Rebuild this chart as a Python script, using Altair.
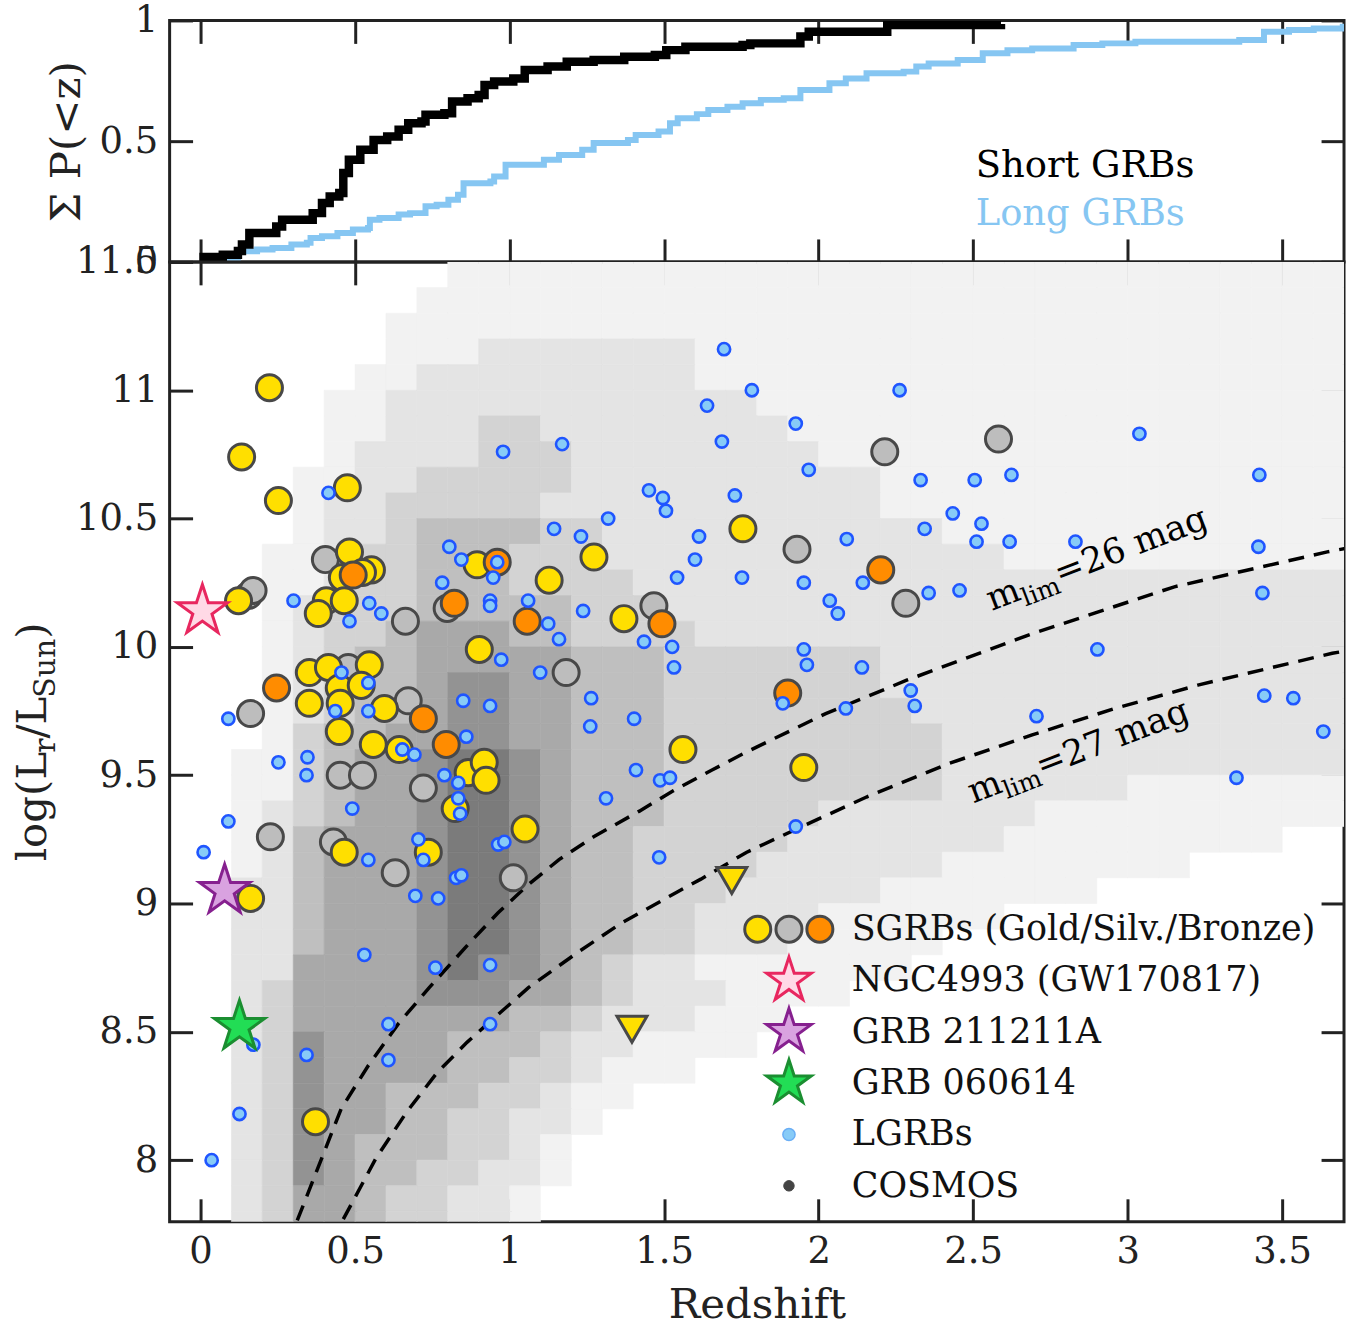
import altair as alt
import pandas as pd

FONT = "DejaVu Serif"
INK = "#222222"
TICK = 23

# ---------------- top panel: cumulative redshift distributions ----------------
short_z = [0.00, 0.010, 0.072, 0.121, 0.134, 0.158, 0.245, 0.264, 0.363, 0.393, 0.418, 0.449, 0.462,
           0.480, 0.517, 0.560, 0.604, 0.641, 0.672, 0.715, 0.728, 0.789, 0.814, 0.864, 0.900, 0.919,
           0.950, 1.012, 1.049, 1.123, 1.185, 1.272, 1.371, 1.470, 1.507, 1.569, 1.754, 1.779, 1.941,
           1.968, 2.222, 2.590]
short_p = [0.000, 0.020, 0.030, 0.045, 0.072, 0.120, 0.147, 0.175, 0.202, 0.244, 0.271, 0.285, 0.368,
           0.423, 0.464, 0.505, 0.519, 0.547, 0.574, 0.581, 0.609, 0.616, 0.664, 0.678, 0.691, 0.733,
           0.747, 0.760, 0.795, 0.809, 0.829, 0.836, 0.850, 0.857, 0.877, 0.891, 0.898, 0.905, 0.933,
           0.953, 0.981, 0.985]
long_z = [0.00, 0.010, 0.121, 0.183, 0.233, 0.294, 0.344, 0.356, 0.393, 0.443, 0.493, 0.542, 0.548,
          0.579, 0.641, 0.678, 0.728, 0.764, 0.802, 0.833, 0.851, 0.938, 0.950, 0.987, 1.111, 1.160,
          1.235, 1.272, 1.383, 1.408, 1.482, 1.519, 1.544, 1.606, 1.643, 1.705, 1.754, 1.813, 1.887,
          1.941, 2.035, 2.088, 2.155, 2.275, 2.316, 2.356, 2.450, 2.531, 2.611, 2.691, 2.825, 2.918,
          3.025, 3.361, 3.441, 3.522, 3.602, 3.696, 3.750]
long_p = [0.000, 0.017, 0.044, 0.051, 0.058, 0.072, 0.079, 0.099, 0.106, 0.120, 0.134, 0.140, 0.175,
          0.182, 0.196, 0.202, 0.230, 0.237, 0.257, 0.278, 0.326, 0.333, 0.354, 0.402, 0.423, 0.443,
          0.464, 0.492, 0.505, 0.526, 0.540, 0.574, 0.595, 0.612, 0.629, 0.643, 0.657, 0.671, 0.678,
          0.712, 0.740, 0.760, 0.781, 0.788, 0.809, 0.822, 0.836, 0.864, 0.877, 0.884, 0.898, 0.905,
          0.912, 0.919, 0.953, 0.960, 0.967, 0.974, 0.974]
top_labels = ["Short GRBs", "Long GRBs"]
top_label_z = [2.508, 2.508]
top_label_p = [0.397, 0.198]

# ---------------- main panel ----------------
gold_z = [0.223, 0.133, 0.252, 0.475, 0.482, 0.553, 0.459, 0.524, 0.407, 0.465, 0.381, 0.123, 0.352,
          0.414, 0.546, 0.449, 0.520, 0.352, 0.452, 0.449, 0.559, 0.595, 0.643, 0.866, 0.918, 0.924,
          0.824, 0.737, 0.465, 1.050, 0.895, 1.128, 1.273, 0.902, 1.370, 1.755, 1.561, 1.952, 0.162,
          0.372]
gold_L = [11.01, 10.74, 10.57, 10.62, 10.37, 10.30, 10.27, 10.29, 10.18, 10.18, 10.13, 10.18, 9.90,
          9.92, 9.93, 9.84, 9.85, 9.78, 9.78, 9.67, 9.62, 9.76, 9.60, 9.51, 9.55, 9.48,
          9.37, 9.20, 9.20, 9.29, 10.32, 10.26, 10.35, 9.99, 10.11, 10.46, 9.60, 9.53, 9.02,
          8.15]
silver_z = [0.155, 0.170, 0.404, 0.663, 0.798, 1.183, 1.467, 2.214, 2.582, 1.930, 2.282, 0.672, 0.721,
            0.162, 0.478, 0.452, 0.524, 0.226, 0.430, 0.630, 1.012]
silver_L = [10.20, 10.22, 10.34, 10.10, 10.15, 9.90, 10.16, 10.76, 10.81, 10.38, 10.17, 9.79, 9.45,
            9.74, 9.92, 9.50, 9.50, 9.26, 9.24, 9.12, 9.10]
bronze_z = [0.494, 0.960, 0.821, 1.057, 1.493, 2.201, 0.246, 0.721, 0.795, 1.900]
bronze_L = [10.28, 10.33, 10.17, 10.10, 10.09, 10.30, 9.84, 9.72, 9.62, 9.82]
limit_z = [1.396, 1.719]
limit_L = [8.51, 9.09]
lgrb_z = [1.694, 1.784, 2.262, 1.639, 1.926, 1.687, 3.038, 1.968, 2.330, 2.505, 2.624, 3.426, 1.451,
          1.496, 1.506, 1.729, 1.319, 2.434, 1.613, 2.343, 2.527, 2.511, 2.618, 2.831, 3.423, 2.091,
          1.600, 1.542, 1.752, 1.952, 2.143, 2.356, 2.456, 3.436, 2.036, 2.062, 1.435, 1.526, 1.532,
          1.952, 1.962, 2.140, 2.902, 1.884, 2.298, 2.311, 2.088, 3.442, 3.536, 3.633, 2.705, 3.352,
          1.926, 0.979, 1.170, 1.144, 1.231, 0.414, 0.805, 0.844, 0.947, 0.782, 0.960, 0.937, 0.937,
          1.060, 1.125, 1.160, 1.238, 0.973, 1.099, 1.264, 0.301, 0.546, 0.585, 0.482, 0.090, 0.252,
          0.346, 0.343, 0.436, 0.543, 0.491, 0.090, 0.010, 0.543, 0.850, 0.937, 0.860, 0.653, 0.692,
          0.789, 0.834, 0.834, 0.840, 0.705, 0.963, 0.983, 0.721, 0.827, 0.844, 0.695, 0.769, 1.403,
          1.261, 1.312, 1.409, 1.487, 1.519, 1.484, 0.530, 0.760, 0.937, 0.608, 0.937, 0.171, 0.343,
          0.608, 0.126, 0.036, 0.456, 0.543]
lgrb_L = [11.16, 11.00, 11.00, 10.94, 10.87, 10.80, 10.83, 10.69, 10.65, 10.65, 10.67, 10.67, 10.61,
          10.58, 10.53, 10.59, 10.50, 10.52, 10.43, 10.46, 10.48, 10.41, 10.41, 10.41, 10.39, 10.42,
          10.34, 10.27, 10.27, 10.25, 10.25, 10.21, 10.22, 10.21, 10.18, 10.13, 10.02, 10.00, 9.92,
          9.99, 9.93, 9.92, 9.99, 9.78, 9.83, 9.77, 9.76, 9.81, 9.80, 9.67, 9.73, 9.49,
          9.30, 10.76, 10.79, 10.46, 10.43, 10.60, 10.39, 10.34, 10.27, 10.25, 10.33, 10.18, 10.16,
          10.18, 10.09, 10.03, 10.14, 9.95, 9.90, 9.80, 10.18, 10.17, 10.13, 10.10, 9.72, 9.55,
          9.57, 9.50, 9.75, 9.75, 9.37, 9.32, 9.20, 9.17, 9.79, 9.77, 9.65, 9.60, 9.58,
          9.50, 9.47, 9.41, 9.35, 9.25, 9.23, 9.24, 9.17, 9.10, 9.11, 9.03, 9.02, 9.72,
          9.69, 9.41, 9.52, 9.48, 9.49, 9.18, 8.80, 8.75, 8.76, 8.53, 8.53, 8.45, 8.41,
          8.39, 8.18, 8.00, 9.90, 9.86]
star_names = ["NGC4993 (GW170817)", "GRB 211211A", "GRB 060614"]
star_z = [0.006, 0.078, 0.126]
star_L = [10.14, 9.05, 8.52]

mlim26_z = [0.313, 0.455, 0.542, 0.641, 0.740, 0.864, 0.962, 1.061, 1.160, 1.272, 1.420, 1.531, 1.655,
            1.766, 2.023, 2.285, 2.688, 3.151, 3.646, 3.710]
mlim26_L = [7.765, 8.200, 8.367, 8.533, 8.672, 8.838, 8.963, 9.074, 9.171, 9.260, 9.360, 9.440, 9.520,
            9.590, 9.740, 9.870, 10.050, 10.234, 10.370, 10.385]
mlim27_z = [0.462, 0.567, 0.666, 0.764, 0.863, 0.937, 1.061, 1.222, 1.358, 1.544, 1.619, 1.766, 1.928,
            2.155, 2.423, 2.691, 2.959, 3.227, 3.662, 3.710]
mlim27_L = [7.770, 8.006, 8.186, 8.339, 8.460, 8.540, 8.672, 8.811, 8.921, 9.046, 9.095, 9.199, 9.290,
            9.415, 9.546, 9.657, 9.760, 9.851, 9.975, 9.985]
mlim_tail = ["=26 mag", "=27 mag"]
mlim_text_z = [2.56, 2.50]
mlim_text_L = [10.14, 9.39]

# COSMOS galaxy density (run-length encoded rows, grey level 0-7),
# cells 0.1 in redshift from z=-0.1 and 0.1 dex from logL=11.5 downwards
cosmos_rle = [
    [(0, 9), (1, 29)],
    [(0, 8), (1, 30)],
    [(0, 7), (1, 31)],
    [(0, 7), (1, 3), (2, 7), (1, 21)],
    [(0, 6), (1, 2), (2, 9), (1, 21)],
    [(0, 5), (1, 2), (2, 12), (1, 19)],
    [(0, 5), (1, 2), (2, 3), (3, 2), (2, 8), (1, 18)],
    [(0, 5), (1, 1), (2, 4), (3, 3), (2, 8), (1, 17)],
    [(0, 4), (1, 2), (2, 2), (3, 5), (2, 10), (1, 15)],
    [(0, 4), (1, 1), (2, 2), (3, 5), (2, 11), (1, 15)],
    [(0, 4), (1, 1), (2, 2), (3, 1), (4, 4), (3, 2), (2, 11), (1, 13)],
    [(0, 3), (1, 2), (2, 1), (3, 2), (4, 3), (3, 3), (2, 13), (1, 11)],
    [(0, 3), (1, 2), (2, 1), (3, 2), (4, 3), (3, 4), (2, 23)],
    [(0, 3), (1, 1), (2, 1), (3, 3), (4, 5), (3, 3), (2, 22)],
    [(0, 3), (1, 1), (2, 1), (3, 2), (4, 1), (5, 3), (4, 2), (3, 4), (2, 21)],
    [(0, 3), (1, 1), (2, 1), (3, 1), (4, 2), (5, 5), (4, 3), (3, 7), (2, 15)],
    [(0, 3), (1, 1), (2, 1), (3, 1), (4, 2), (5, 1), (6, 2), (5, 2), (4, 3), (3, 7), (2, 15)],
    [(0, 3), (1, 1), (2, 1), (3, 1), (4, 2), (5, 1), (6, 2), (5, 2), (4, 3), (3, 8), (2, 14)],
    [(0, 3), (1, 1), (3, 1), (4, 2), (5, 2), (6, 2), (5, 2), (4, 3), (3, 9), (2, 13)],
    [(0, 2), (1, 2), (3, 1), (4, 1), (5, 2), (6, 1), (7, 2), (6, 1), (5, 1), (4, 3), (3, 9), (2, 13)],
    [(0, 2), (1, 2), (3, 1), (4, 1), (5, 2), (6, 1), (7, 2), (6, 1), (5, 1), (4, 3), (3, 9), (2, 6), (1, 7)],
    [(0, 2), (1, 1), (2, 1), (3, 1), (4, 1), (5, 2), (6, 1), (7, 2), (6, 1), (5, 1), (4, 3), (3, 5), (2, 7), (1, 10)],
    [(0, 2), (1, 1), (2, 1), (4, 1), (5, 3), (6, 1), (7, 2), (6, 1), (5, 1), (4, 2), (3, 5), (2, 7), (1, 9), (0, 2)],
    [(0, 2), (1, 1), (2, 1), (4, 1), (5, 3), (6, 1), (7, 2), (6, 1), (5, 1), (4, 2), (3, 4), (2, 6), (1, 8), (0, 5)],
    [(0, 2), (2, 2), (4, 1), (5, 3), (6, 1), (7, 2), (6, 1), (5, 1), (4, 2), (3, 3), (2, 5), (1, 7), (0, 8)],
    [(0, 2), (2, 2), (4, 1), (5, 3), (6, 1), (7, 2), (6, 1), (5, 1), (4, 2), (3, 2), (2, 4), (1, 6), (0, 11)],
    [(0, 2), (2, 2), (4, 1), (5, 3), (6, 1), (7, 2), (6, 1), (5, 1), (4, 2), (3, 2), (2, 3), (1, 5), (0, 13)],
    [(0, 2), (2, 2), (5, 4), (6, 1), (7, 1), (6, 2), (5, 1), (4, 1), (3, 1), (2, 2), (1, 7), (0, 14)],
    [(0, 2), (2, 1), (3, 1), (5, 4), (6, 3), (5, 2), (4, 1), (3, 1), (2, 3), (1, 4), (0, 16)],
    [(0, 2), (2, 1), (3, 1), (5, 7), (4, 2), (3, 1), (2, 3), (1, 3), (0, 18)],
    [(0, 2), (2, 1), (3, 1), (6, 1), (5, 4), (4, 3), (3, 1), (2, 2), (1, 4), (0, 19)],
    [(0, 2), (2, 1), (3, 1), (6, 1), (5, 4), (4, 2), (3, 2), (2, 1), (1, 3), (0, 21)],
    [(0, 2), (2, 1), (3, 1), (6, 1), (5, 2), (4, 3), (3, 2), (2, 1), (1, 2), (0, 23)],
    [(0, 2), (2, 1), (3, 1), (6, 1), (5, 2), (4, 2), (3, 2), (2, 2), (1, 1), (0, 24)],
    [(0, 2), (2, 1), (3, 1), (6, 1), (5, 1), (4, 3), (3, 2), (2, 1), (1, 1), (0, 25)],
    [(0, 2), (2, 1), (3, 1), (6, 1), (5, 1), (4, 2), (3, 2), (2, 2), (1, 1), (0, 25)],
    [(0, 2), (2, 1), (3, 1), (5, 2), (4, 1), (3, 2), (2, 2), (1, 1), (0, 26)],
    [(0, 2), (2, 1), (3, 1), (5, 2), (4, 1), (3, 2), (2, 2), (1, 1), (0, 26)],
]
cosmos_z_start = -0.1
cosmos_L_top = 11.5
cosmos_cell = 0.1

# legend entries (placed in data units inside the lower-right corner)
legend_labels = ["SGRBs (Gold/Silv./Bronze)", "NGC4993 (GW170817)", "GRB 211211A", "GRB 060614",
                 "LGRBs", "COSMOS"]
legend_L = [8.90, 8.70, 8.50, 8.30, 8.10, 7.90]
legend_sym_z = 1.904
legend_txt_z = 2.107
legend_sgrb_z = [1.803, 1.904, 2.004]

# y-axis title pieces: (text, is_subscript)
ytitle_pieces = [("log(L", False), ("r", True), ("/L", False), ("Sun", True), (")", False)]

# ---------------- styles ----------------
GOLD, SILVER, BRONZE = "#ffdf00", "#bdbdbd", "#ff8c00"
EDGE = "#484848"
LG_FILL, LG_EDGE = "#87cbf7", "#1f55ff"
LONG_COL = "#86c6f2"
STAR_FILL = ["#ffd9e6", "#d9a2e0", "#22dd55"]
STAR_EDGE = ["#e8275f", "#86208f", "#1b8e31"]
STAR_PATH = ("M0,-1L0.225,-0.309L0.951,-0.309L0.363,0.118L0.588,0.809L0,0.382"
             "L-0.588,0.809L-0.363,0.118L-0.951,-0.309L-0.225,-0.309Z")
GREY_LEVELS = [0, 1, 2, 3, 4, 5, 6, 7]
GREY_COLORS = ["#ffffff", "#f2f2f2", "#e4e4e4", "#d3d3d3", "#bfbfbf", "#a9a9a9", "#939393", "#7b7b7b"]
# advance widths (em) of DejaVu Serif glyphs used to chain title / annotation pieces
EM = {"l": 0.320, "o": 0.602, "g": 0.640, "(": 0.390, ")": 0.390, "L": 0.637, "r": 0.478,
      "/": 0.337, "S": 0.685, "u": 0.644, "n": 0.644, "i": 0.320, "m": 0.948}

W, H_MAIN, H_TOP = 1177, 962, 242
xs = alt.Scale(domain=[-0.1, 3.7], nice=False, zero=False)
ys = alt.Scale(domain=[7.76, 11.5], nice=False, zero=False)
ps = alt.Scale(domain=[0, 1], nice=False, zero=False)
XV = [0, 0.5, 1, 1.5, 2, 2.5, 3, 3.5]
YV = [8, 8.5, 9, 9.5, 10, 10.5, 11, 11.5]
PV = [0, 0.5, 1]


def text_width(s, size):
    return sum(EM.get(ch, 0.6) for ch in s) * size


def inner_axis(orient, values, labels=False, title=None, label_pad=12, title_pad=10):
    kw = dict(orient=orient, values=values, offset=-TICK, tickSize=TICK, tickWidth=3,
              tickColor=INK, domain=False, grid=False, labels=labels, labelFlush=False,
              title=title)
    if labels:
        kw.update(format="~g", labelFont=FONT, labelFontSize=37, labelColor=INK,
                  labelPadding=label_pad)
    if title is not None:
        kw.update(titleFont=FONT, titleFontSize=42, titleFontWeight="normal", titleColor=INK,
                  titlePadding=title_pad)
    return alt.Axis(**kw)


# ---------------- top panel ----------------
short_df = pd.DataFrame({"z": short_z, "p": short_p})
long_df = pd.DataFrame({"z": long_z, "p": long_p})
toplab_df = pd.DataFrame({"z": top_label_z, "p": top_label_p, "t": top_labels,
                          "c": ["black", LONG_COL]})

short_line = alt.Chart(short_df).mark_line(
    interpolate="step-after", color="black", strokeWidth=8.5, clip=True
).encode(
    x=alt.X("z:Q", scale=xs, axis=inner_axis("bottom", XV)),
    y=alt.Y("p:Q", scale=ps, axis=inner_axis("left", PV, labels=True, title="\u03a3 P(<z)",
                                             title_pad=10)),
)
long_line = alt.Chart(long_df).mark_line(
    interpolate="step-after", color=LONG_COL, strokeWidth=6, clip=True
).encode(
    x=alt.X("z:Q", scale=xs, axis=inner_axis("top", XV)),
    y=alt.Y("p:Q", scale=ps, axis=inner_axis("right", PV)),
)
top_text = alt.Chart(toplab_df).mark_text(
    align="left", baseline="middle", font=FONT, fontSize=37
).encode(
    x=alt.X("z:Q", scale=xs, axis=None),
    y=alt.Y("p:Q", scale=ps, axis=None),
    text="t:N",
    color=alt.Color("c:N", scale=None),
)
top = alt.layer(long_line, short_line, top_text).properties(width=W, height=H_TOP)

# ---------------- main panel ----------------
cells = []
for r, row in enumerate(cosmos_rle):
    L_hi = cosmos_L_top - r * cosmos_cell
    c = 0
    for val, n in row:
        for _ in range(n):
            if val > 0:
                z0 = cosmos_z_start + c * cosmos_cell
                cells.append({"z0": z0, "z1": z0 + cosmos_cell, "L0": L_hi - cosmos_cell,
                              "L1": L_hi, "v": val})
            c += 1
cos_df = pd.DataFrame(cells)
grey = alt.Scale(domain=GREY_LEVELS, range=GREY_COLORS)

density = alt.Chart(cos_df).mark_rect(clip=True, strokeWidth=0.6).encode(
    x=alt.X("z0:Q", scale=xs, axis=inner_axis("bottom", XV, labels=True, title="Redshift",
                                              label_pad=12, title_pad=15)),
    x2="z1:Q",
    y=alt.Y("L0:Q", scale=ys, axis=inner_axis("left", YV, labels=True)),
    y2="L1:Q",
    fill=alt.Fill("v:Q", scale=grey, legend=None),
    stroke=alt.Stroke("v:Q", scale=grey, legend=None),
)

curve_df = pd.concat([
    pd.DataFrame({"z": mlim26_z, "L": mlim26_L, "m": "26"}),
    pd.DataFrame({"z": mlim27_z, "L": mlim27_L, "m": "27"}),
])
curves = alt.Chart(curve_df).mark_line(
    color="black", strokeWidth=3.5, strokeDash=[16, 10], clip=True
).encode(
    x=alt.X("z:Q", scale=xs, axis=inner_axis("top", XV)),
    y=alt.Y("L:Q", scale=ys, axis=inner_axis("right", YV)),
    detail="m:N",
)

# rotated "m_lim=.. mag" annotations built from pieces along the rotated baseline
mlim_df = pd.DataFrame({"z": mlim_text_z, "L": mlim_text_L, "tail": mlim_tail})
ANN, SUB = 35, 25
mlim_layers = []
for txt, size, dx, dy in [("m", ANN, 0, 0), ("lim", SUB, text_width("m", ANN), 8),
                          (None, ANN, text_width("m", ANN) + text_width("lim", SUB), 0)]:
    mk = alt.Chart(mlim_df).mark_text(
        align="left", baseline="alphabetic", angle=339, font=FONT, fontSize=size,
        color="black", dx=dx, dy=dy
    )
    enc = dict(x=alt.X("z:Q", scale=xs, axis=None), y=alt.Y("L:Q", scale=ys, axis=None))
    if txt is None:
        enc["text"] = "tail:N"
    else:
        enc["text"] = alt.value(txt)
    mlim_layers.append(mk.encode(**enc))

# y-axis title with true subscripts, rotated, centred on the panel
YT, YS = 42, 30
piece_sizes = [YS if sub else YT for _, sub in ytitle_pieces]
total_len = sum(text_width(t, s) for (t, _), s in zip(ytitle_pieces, piece_sizes))
ytitle_layers = []
run = 0.0
one = pd.DataFrame({"k": [0]})
for (t, sub), s in zip(ytitle_pieces, piece_sizes):
    ytitle_layers.append(
        alt.Chart(one).mark_text(
            align="left", baseline="alphabetic", angle=270, font=FONT, fontSize=s, color=INK,
            dx=run, dy=(9 if sub else 0)
        ).encode(x=alt.value(-124), y=alt.value(H_MAIN / 2 + total_len / 2), text=alt.value(t))
    )
    run += text_width(t, s)


def pts(z, L, fill, stroke, size, shape="circle", sw=3.0):
    df = pd.DataFrame({"z": z, "L": L})
    return alt.Chart(df).mark_point(
        shape=shape, filled=True, fill=fill, stroke=stroke, strokeWidth=sw, size=size,
        opacity=1, fillOpacity=1, strokeOpacity=1
    ).encode(x=alt.X("z:Q", scale=xs, axis=None), y=alt.Y("L:Q", scale=ys, axis=None))


silver = pts(silver_z, silver_L, SILVER, EDGE, 680)
gold = pts(gold_z, gold_L, GOLD, EDGE, 680)
bronze = pts(bronze_z, bronze_L, BRONZE, EDGE, 680)
limits = pts(limit_z, limit_L, GOLD, EDGE, 900, shape="triangle-down")
lgrbs = pts(lgrb_z, lgrb_L, LG_FILL, LG_EDGE, 150, sw=2.6)

star_df = pd.DataFrame({"z": star_z, "L": star_L, "n": star_names})
stars = alt.Chart(star_df).mark_point(
    shape=STAR_PATH, filled=True, strokeWidth=3, size=2800, opacity=1, fillOpacity=1
).encode(
    x=alt.X("z:Q", scale=xs, axis=None),
    y=alt.Y("L:Q", scale=ys, axis=None),
    fill=alt.Fill("n:N", scale=alt.Scale(domain=star_names, range=STAR_FILL), legend=None),
    stroke=alt.Stroke("n:N", scale=alt.Scale(domain=star_names, range=STAR_EDGE), legend=None),
)

# legend
leg_sgrb = alt.Chart(pd.DataFrame({"z": legend_sgrb_z, "L": [legend_L[0]] * 3,
                                   "k": ["Gold", "Silver", "Bronze"]})).mark_point(
    shape="circle", filled=True, stroke=EDGE, strokeWidth=3, size=680, opacity=1
).encode(
    x=alt.X("z:Q", scale=xs, axis=None), y=alt.Y("L:Q", scale=ys, axis=None),
    fill=alt.Fill("k:N", scale=alt.Scale(domain=["Gold", "Silver", "Bronze"],
                                         range=[GOLD, SILVER, BRONZE]), legend=None),
)
leg_star_df = pd.DataFrame({"z": [legend_sym_z] * 3, "L": legend_L[1:4], "n": star_names})
leg_stars = alt.Chart(leg_star_df).mark_point(
    shape=STAR_PATH, filled=True, strokeWidth=3, size=2200, opacity=1
).encode(
    x=alt.X("z:Q", scale=xs, axis=None), y=alt.Y("L:Q", scale=ys, axis=None),
    fill=alt.Fill("n:N", scale=alt.Scale(domain=star_names, range=STAR_FILL), legend=None),
    stroke=alt.Stroke("n:N", scale=alt.Scale(domain=star_names, range=STAR_EDGE), legend=None),
)
leg_lgrb = pts([legend_sym_z], [legend_L[4]], LG_FILL, "#6aaef5", 150, sw=1.5)
leg_cosmos = pts([legend_sym_z], [legend_L[5]], "#444444", "#444444", 110, sw=1)
leg_text = alt.Chart(pd.DataFrame({"z": [legend_txt_z] * 6, "L": legend_L, "t": legend_labels})).mark_text(
    align="left", baseline="middle", font=FONT, fontSize=35, color="#111111"
).encode(x=alt.X("z:Q", scale=xs, axis=None), y=alt.Y("L:Q", scale=ys, axis=None), text="t:N")

main = alt.layer(
    density, curves, *mlim_layers, silver, gold, bronze, limits, lgrbs, stars,
    leg_sgrb, leg_stars, leg_lgrb, leg_cosmos, leg_text, *ytitle_layers
).properties(width=W, height=H_MAIN)

chart = alt.vconcat(top, main, spacing=0, bounds="flush").properties(
    padding={"left": 10, "top": -2, "right": 3, "bottom": 2},
    background="white",
).configure_view(stroke=INK, strokeWidth=3)

chart.save("out.html", embed_options={"renderer": "svg", "actions": False})
